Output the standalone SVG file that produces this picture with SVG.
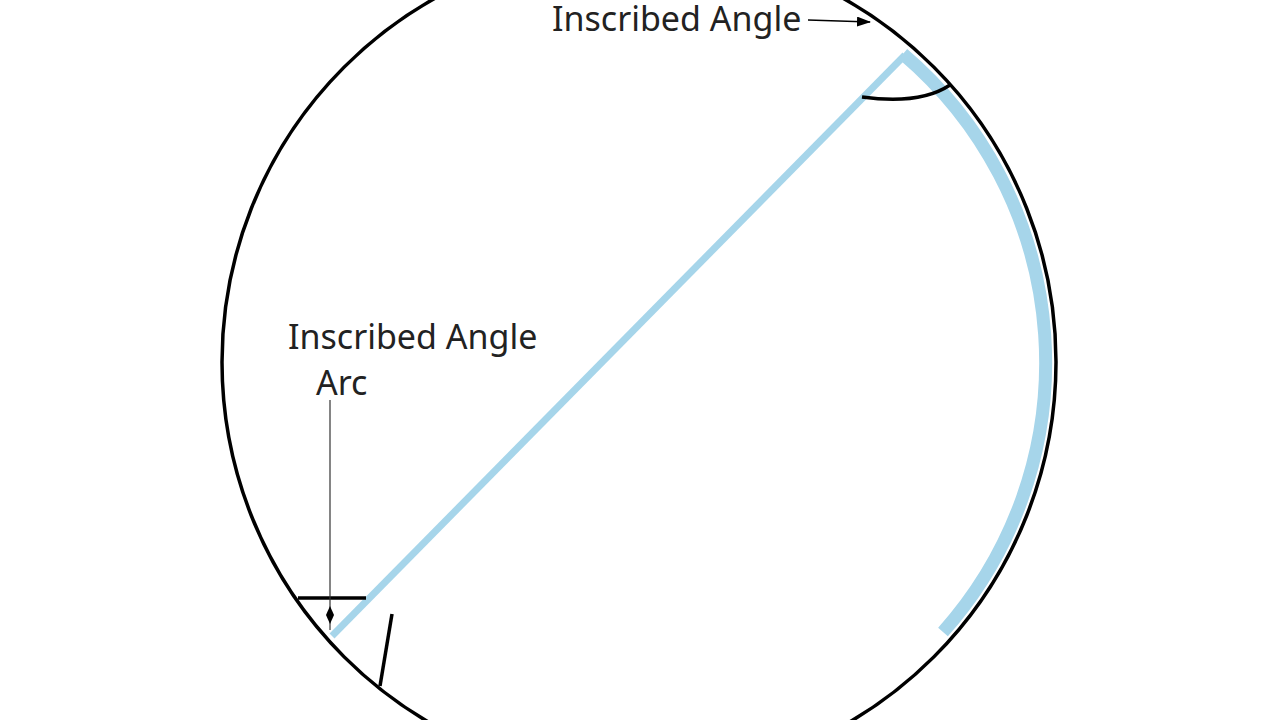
<svg xmlns="http://www.w3.org/2000/svg" width="1280" height="720" viewBox="0 0 1280 720">
<style>
.lbl{font-family:"Noto Sans",sans-serif;font-size:34px;fill:#222}
.k{stroke:#000;fill:none;stroke-width:3.5}
.b{stroke:#a6d5ea;fill:none}
</style>
<defs><marker id="ah" markerWidth="14" markerHeight="10" refX="13" refY="5" orient="auto" markerUnits="userSpaceOnUse"><path d="M0,0L14,5L0,10z" fill="#000"/></marker></defs>
<rect width="1280" height="720" fill="#fff"/>
<g id="circle"><circle cx="639" cy="362" r="417" class="k"/></g>
<g id="chord"><line x1="332" y1="636" x2="905" y2="55" class="b" stroke-width="7"/></g>
<g id="arc"><path d="M903,54 A405,405 0 0 1 943,632" class="b" stroke-width="13"/></g>
<g id="angle"><path d="M862,97 Q920,105 950,85" class="k"/></g>
<g id="marks">
<line x1="298" y1="598" x2="366" y2="598" class="k"/>
<line x1="392" y1="614" x2="380" y2="686" class="k"/>
</g>
<g id="connectors">
<line x1="808" y1="20" x2="870" y2="22" stroke="#000" stroke-width="1.5" marker-end="url(#ah)"/>
<line x1="330" y1="400" x2="330" y2="630" stroke="#333" stroke-width="1.2"/>
<path d="M330,606 L334,615 L330,624 L326,615z" fill="#000"/>
</g>
<g id="labels">
<text x="552" y="31" class="lbl">Inscribed Angle</text>
<text x="288" y="349" class="lbl">Inscribed Angle</text>
<text x="316" y="395" class="lbl">Arc</text>
</g>
</svg>
